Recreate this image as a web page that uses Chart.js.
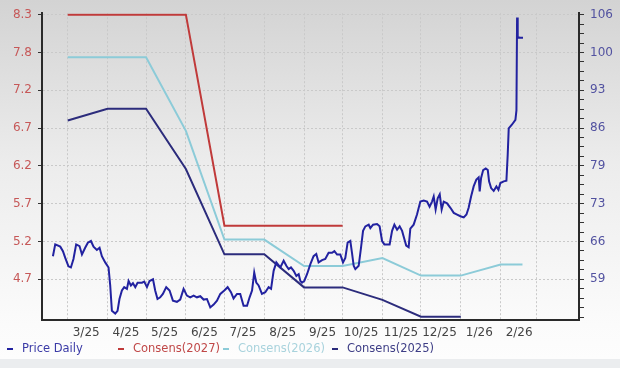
<!DOCTYPE html>
<html><head><meta charset="utf-8">
<script src="https://cdn.jsdelivr.net/npm/chart.js@4/dist/chart.umd.min.js"></script>
<style>html,body{margin:0;padding:0;background:#fff}#wrap{width:620px;height:368px;position:relative}</style>
</head><body><div id="wrap"><canvas id="c" width="620" height="368"></canvas></div>
<script>
// x values are days since 2025-03-01
const monthStarts = [0,31,61,92,122,153,184,214,245,275,306,337,365];
const monthLabels = ['3/25','4/25','5/25','6/25','7/25','8/25','9/25','10/25','11/25','12/25','1/26','2/26',''];
const leftTickLabels = ['4.7','5.2','5.7','6.2','6.7','7.2','7.8','8.3'];
const rightTickLabels = ['59','66','73','79','86','93','100','106'];

const priceDays = [-11.5,-9.7,-5.8,-3.7,-1.9,0.6,2.5,4.5,6.6,9.2,11.1,13.6,15.7,18.1,20.1,22.7,24.8,26.6,29.2,31.8,33.1,34.4,37.0,38.8,40.3,42.2,44.0,46.1,47.4,49.2,50.8,52.6,54.4,57.8,59.6,61.7,63.7,66.4,68.1,69.9,72.0,74.1,76.7,79.3,81.9,85.0,87.6,90.2,92.8,95.4,98.0,100.6,103.2,105.8,108.4,111.0,113.6,116.2,118.8,121.9,124.5,127.1,129.1,131.8,134.3,
136.9,139.6,141.6,143.5,145.2,146.8,148.6,151.2,153.8,156.4,158.3,160.3,162.4,165.5,168.1,170.2,172.0,173.8,175.9,178.0,179.8,181.1,182.4,184.2,186.3,188.9,191.4,193.5,195.3,198.0,200.5,203.1,205.8,207.6,209.7,212.2,214.3,216.1,217.9,220.0,221.3,222.6,223.9,226.5,228.3,229.9,231.7,234.3,235.6,237.7,240.8,242.8,244.7,246.5,248.6,250.6,252.5,254.3,256.4,258.4,260.3,262.1,263.5,265.4,266.7,269.3,271.9,274.5,277.1,279.7,281.7,283.6,284.9,286.4,288.0,289.6,291.1,292.7,295.3,297.9,300.5,303.1,305.7,308.3,310.4,312.1,314.0,316.0,318.1,319.9,320.7,321.8,323.4,325.4,327.0,328.0,329.6,331.6,333.7,335.3,336.8,339.4,341.5,342.5,343.3,345.9,348.5,349.3,349.8,350.3,352.3,354.4];
const priceValues = [63.1,65.2,64.8,64.0,62.8,61.3,61.1,62.6,65.2,64.9,63.4,64.6,65.5,65.8,64.8,64.2,64.6,63.1,62.0,61.1,57.9,53.4,52.9,53.4,55.5,57.0,57.6,57.3,58.7,57.9,58.3,57.6,58.4,58.4,58.6,57.6,58.7,59.0,57.0,55.5,55.8,56.4,57.6,57.0,55.2,55.0,55.4,57.3,56.1,55.8,56.1,55.8,56.0,55.4,55.5,54.0,54.5,55.2,56.4,57.0,57.6,56.7,55.6,56.4,56.4,
54.3,54.3,55.8,57.0,60.2,58.4,57.9,56.4,56.7,57.6,57.3,60.5,62.0,61.1,62.3,61.4,60.8,61.1,60.5,59.6,59.9,58.7,58.4,58.7,59.9,61.7,63.1,63.5,62.0,62.4,62.6,63.7,63.7,64.0,63.4,63.4,62.0,62.8,65.5,65.8,63.7,61.4,60.8,61.4,64.6,67.6,68.4,68.7,68.1,68.7,68.8,68.4,65.8,65.2,65.2,65.2,67.6,68.7,67.8,68.4,67.6,66.1,65.0,64.7,68.0,68.7,70.5,72.8,73.0,72.8,71.9,72.8,73.7,71.4,73.4,74.1,71.4,72.8,72.5,71.7,70.8,70.5,70.2,70.0,70.5,71.7,73.7,75.5,76.7,77.1,74.6,77.0,78.4,78.7,78.4,76.4,75.2,74.7,75.5,74.9,76.1,76.4,76.5,81.1,85.8,86.5,87.3,89.0,105.5,102.0,101.9,101.9];

const cons2027Days = [0,92,122,214];
const cons2027 = [8.30,8.30,5.43,5.43];
const cons2026Days = [0,61,92,122,153,184,214,245,275,306,337,354];
const cons2026 = [7.72,7.72,6.72,5.24,5.24,4.88,4.88,4.99,4.75,4.75,4.90,4.90];
const cons2025Days = [0,31,61,92,122,153,184,214,245,275,306];
const cons2025 = [6.86,7.02,7.02,6.20,5.04,5.04,4.59,4.59,4.42,4.19,4.19];

const pts = (xs, ys) => xs.map((x, i) => ({x: x, y: ys[i]}));

const leftLo = 4.7, leftHi = 8.3, leftStep = (leftHi - leftLo) / 7;
const rightLo = 59, rightHi = 106, rightStep = (rightHi - rightLo) / 7;
const FONT = '"DejaVu Sans", Verdana, sans-serif';

const legendItems = [
  {label: 'Price Daily', color: '#2222a0', text: '#3a3aa6', x: 7},
  {label: 'Consens(2027)', color: '#c03a3a', text: '#c04848', x: 118},
  {label: 'Consens(2026)', color: '#8ccbd8', text: '#a9d3dd', x: 223},
  {label: 'Consens(2025)', color: '#2c2c7c', text: '#3e3e86', x: 332}
];

const bgPlugin = {
  id: 'bg',
  beforeDraw(chart) {
    const ctx = chart.ctx;
    const g = ctx.createLinearGradient(0, 0, 0, 360);
    g.addColorStop(0, '#d3d3d3');
    g.addColorStop(0.45, '#ececec');
    g.addColorStop(0.9, '#fbfbfb');
    g.addColorStop(1, '#fdfdfd');
    ctx.save();
    ctx.fillStyle = g;
    ctx.fillRect(0, 0, chart.width, chart.height);
    ctx.fillStyle = '#ebedef';
    ctx.fillRect(0, 359, chart.width, chart.height - 359);
    ctx.restore();
  },
  afterDraw(chart) {
    const ctx = chart.ctx;
    ctx.save();
    ctx.font = '11.5px ' + FONT;
    ctx.textBaseline = 'middle';
    legendItems.forEach(it => {
      ctx.fillStyle = it.color;
      ctx.fillRect(it.x, 348, 6, 2);
      ctx.fillStyle = it.text;
      ctx.fillText(it.label, it.x + 15, 349);
    });
    ctx.restore();
  }
};

new Chart(document.getElementById('c'), {
  type: 'line',
  data: {
    datasets: [
      {label: 'Price Daily', data: pts(priceDays, priceValues), yAxisID: 'y1', borderColor: '#2222a0', borderWidth: 2, pointRadius: 0, tension: 0, order: 0},
      {label: 'Consens(2027)', data: pts(cons2027Days, cons2027), yAxisID: 'y', borderColor: '#c03a3a', borderWidth: 2, pointRadius: 0, tension: 0, order: 3},
      {label: 'Consens(2026)', data: pts(cons2026Days, cons2026), yAxisID: 'y', borderColor: '#8ccbd8', borderWidth: 2, pointRadius: 0, tension: 0, order: 2},
      {label: 'Consens(2025)', data: pts(cons2025Days, cons2025), yAxisID: 'y', borderColor: '#2c2c7c', borderWidth: 2, pointRadius: 0, tension: 0, order: 1}
    ]
  },
  options: {
    responsive: false,
    animation: false,
    events: [],
    layout: {padding: {top: 11, left: 0, right: 0, bottom: 0}},
    plugins: {legend: {display: false}, tooltip: {enabled: false}},
    scales: {
      x: {
        type: 'linear', min: -20, max: 398,
        afterBuildTicks: s => { s.ticks = monthStarts.map(v => ({value: v})); },
        afterFit: s => { s.height = 48; },
        ticks: {
          autoSkip: false, maxRotation: 0, minRotation: 0, padding: 6, labelOffset: 18.5,
          color: '#444', font: {family: FONT, size: 12},
          callback: (v, i) => monthLabels[i]
        },
        grid: {color: '#c9c9c9', lineWidth: 1, drawTicks: false},
        border: {display: true, color: '#2a2a2a', width: 2, dash: [2, 2]}
      },
      y: {
        position: 'left', min: leftLo - 41 / (266.5 / (leftHi - leftLo)), max: leftHi + 1.5 / (266.5 / (leftHi - leftLo)),
        afterBuildTicks: s => { s.ticks = leftTickLabels.map((l, i) => ({value: leftLo + i * leftStep})); },
        afterFit: s => { s.width = 42; },
        ticks: {
          autoSkip: false, padding: 6, color: '#c65858', font: {family: FONT, size: 12},
          callback: (v, i) => leftTickLabels[i]
        },
        grid: {color: '#c9c9c9', lineWidth: 1, tickLength: 4, tickColor: '#333', tickBorderDash: []},
        border: {display: true, color: '#2a2a2a', width: 2, dash: [2, 2]}
      },
      y1: {
        position: 'right', min: rightLo - 41 / (266.5 / (rightHi - rightLo)), max: rightHi + 1.5 / (266.5 / (rightHi - rightLo)),
        afterBuildTicks: s => {
          const t = [];
          for (let k = -4; k <= 28; k++) t.push({value: rightLo + k * rightStep / 4});
          s.ticks = t;
        },
        afterFit: s => { s.width = 41; },
        ticks: {
          autoSkip: false, padding: 6, color: '#5252a0', font: {family: FONT, size: 12},
          callback: v => {
            const k = Math.round((v - rightLo) / (rightStep / 4));
            return (k >= 0 && k % 4 === 0) ? rightTickLabels[k / 4] : '';
          }
        },
        grid: {drawOnChartArea: false, tickLength: 5, tickColor: '#333'},
        border: {display: true, color: '#2a2a2a', width: 2}
      }
    }
  },
  plugins: [bgPlugin]
});
</script>
</body></html>
